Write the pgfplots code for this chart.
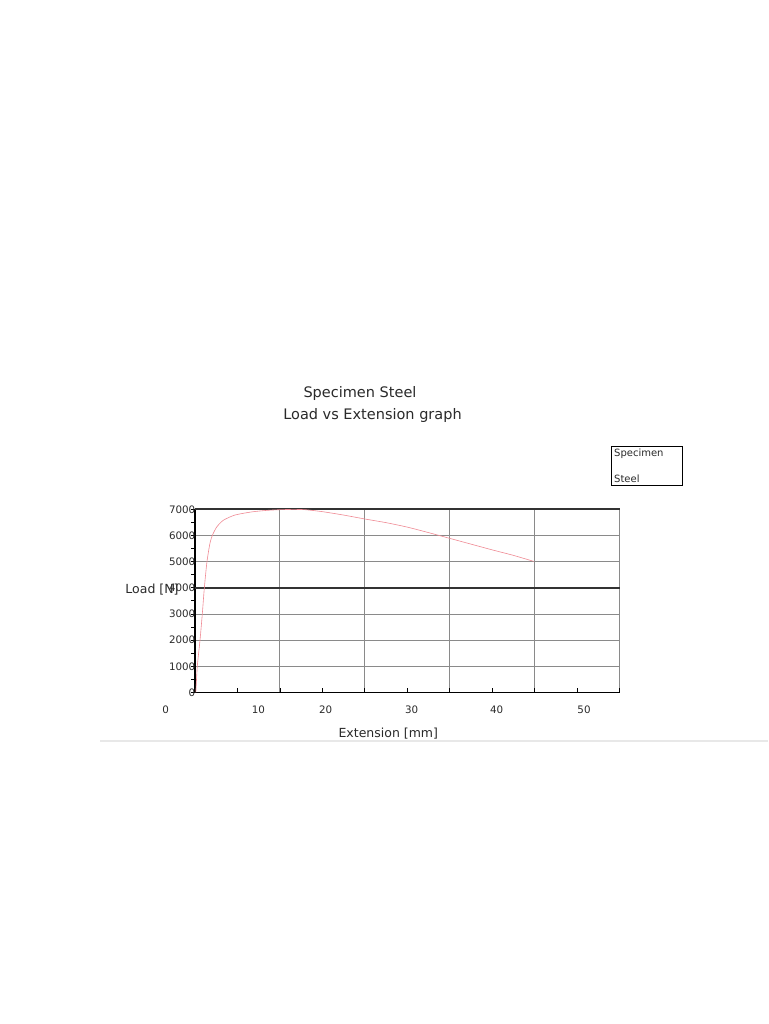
\documentclass[border=0pt]{standalone}
\usepackage{pgfplots}
\pgfplotsset{compat=1.18}
\usepackage{fontspec}
\setmainfont{DejaVu Sans}
\definecolor{curve}{HTML}{F08A94}
\definecolor{gridc}{HTML}{8A8A8A}
\definecolor{txt}{HTML}{2A2A2A}
\begin{document}
\begin{tikzpicture}
\useasboundingbox[fill=white] (0pt,0pt) rectangle (768pt,1024pt);
% separator line
\draw[color=black!9, line width=1.5pt] (100pt,283pt) -- (768pt,283pt);
% titles
\node[txt, font=\fontsize{14.5}{16}\selectfont] at (360pt,630.7pt) {Specimen Steel};
\node[txt, font=\fontsize{14.5}{16}\selectfont] at (372.5pt,608.3pt) {Load vs Extension graph};
% legend box
\draw[black, line width=0.9pt] (611pt,578pt) rectangle (682pt,538.7pt);
\node[txt, anchor=west, inner sep=0pt, font=\fontsize{10}{11}\selectfont] at (614pt,570.7pt) {Specimen};
\node[txt, anchor=west, inner sep=0pt, font=\fontsize{10}{11}\selectfont] at (614pt,545.7pt) {Steel};
\begin{axis}[
  at={(195pt,331.5pt)}, anchor=south west,
  scale only axis, width=424.5pt, height=183.2pt,
  xmin=0, xmax=50, ymin=0, ymax=7000,
  axis x line*=bottom, axis y line*=left,
  axis line style={-, black, line width=1.1pt},
  xtick={0,10,...,50}, xticklabels={},
  minor x tick num=1,
  ytick={0,1000,...,7000},
  minor y tick num=1,
  grid=major,
  major grid style={gridc, line width=0.9pt},
  x tick style={black, line width=0.8pt},
  y tick style={black, line width=0.8pt},
  xtick align=inside, ytick align=outside,
  major tick length=4pt, minor tick length=4pt,
  extra y ticks={4000,7000},
  extra y tick labels={},
  extra y tick style={grid=major, major grid style={black!80, line width=1.6pt}, major tick length=0pt},
  yticklabel style={anchor=east, inner sep=0pt, xshift=4.5pt, txt, font=\fontsize{10.3}{11}\selectfont},
  /pgf/number format/set thousands separator={},
  /pgf/number format/assume math mode=true,
  clip=false,
]
\addplot[curve, line width=0.6pt, smooth, tension=0.4] coordinates {
(0.1,0) (0.27,1000) (0.59,2000) (0.86,3000) (1.1,4000) (1.41,5000)
(1.76,5700) (2.04,6000) (2.55,6320) (3.33,6580) (4.7,6780) (6.67,6900)
(8.5,6960) (10,6985) (11.5,6995) (13,6985) (15,6910) (17.5,6780)
(20,6630) (22.5,6490) (25,6320) (27.5,6110) (30,5890) (32.5,5670)
(35,5450) (37.5,5240) (39.9,5010)
};
\end{axis}
% x tick labels (offset as in the original)
\foreach \xx/\lab in {165.7/0, 258.3/10, 325.7/20, 411.7/30, 496.7/40, 584/50}{
  \node[txt, font=\fontsize{10.3}{11}\selectfont] at (\xx pt,314pt) {\lab};
}
% axis labels
\node[txt, font=\fontsize{12.5}{14}\selectfont] at (388.3pt,290.7pt) {Extension [mm]};
\node[txt, font=\fontsize{12.5}{14}\selectfont] at (152pt,434pt) {Load [N]};
\end{tikzpicture}
\end{document}
